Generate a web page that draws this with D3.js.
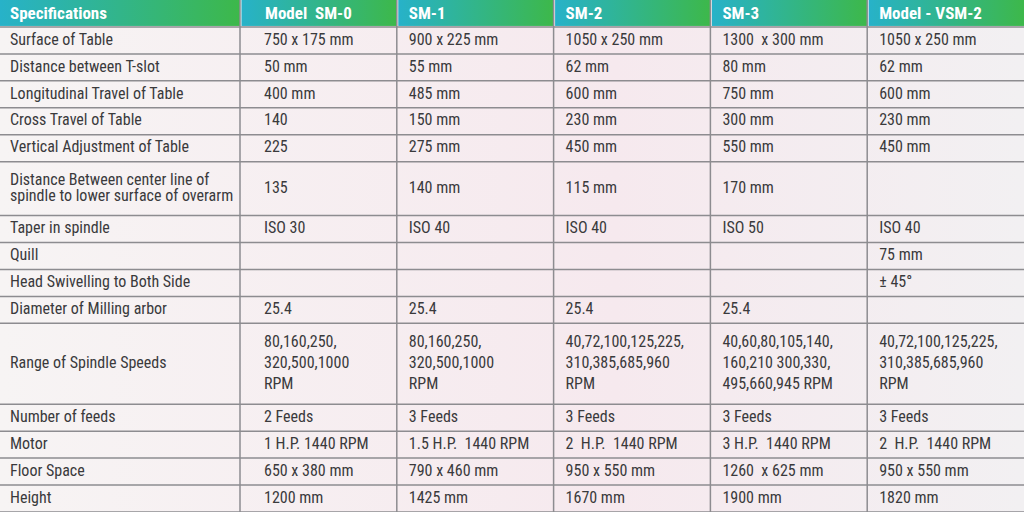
<!DOCTYPE html><html><head><meta charset="utf-8">
<script src="https://cdn.jsdelivr.net/npm/d3@7"></script>
<style>body{margin:0;background:#f4eef0}svg{display:block}text{white-space:pre}</style></head><body>
<svg id="c" width="1024" height="512"></svg>
<script>
const headers=["Specifications","Model  SM-0","SM-1","SM-2","SM-3","Model - VSM-2"];
const specs=["Surface of Table","Distance between T-slot","Longitudinal Travel of Table","Cross Travel of Table","Vertical Adjustment of Table","Distance Between center line of\nspindle to lower surface of overarm","Taper in spindle","Quill","Head Swivelling to Both Side","Diameter of Milling arbor","Range of Spindle Speeds","Number of feeds","Motor","Floor Space","Height"];
const sm0=["750 x 175 mm","50 mm","400 mm","140","225","135","ISO 30","","","25.4","80,160,250,\n320,500,1000\nRPM","2 Feeds","1 H.P. 1440 RPM","650 x 380 mm","1200 mm"];
const sm1=["900 x 225 mm","55 mm","485 mm","150 mm","275 mm","140 mm","ISO 40","","","25.4","80,160,250,\n320,500,1000\nRPM","3 Feeds","1.5 H.P.  1440 RPM","790 x 460 mm","1425 mm"];
const sm2=["1050 x 250 mm","62 mm","600 mm","230 mm","450 mm","115 mm","ISO 40","","","25.4","40,72,100,125,225,\n310,385,685,960\nRPM","3 Feeds","2  H.P.  1440 RPM","950 x 550 mm","1670 mm"];
const sm3=["1300  x 300 mm","80 mm","750 mm","300 mm","550 mm","170 mm","ISO 50","","","25.4","40,60,80,105,140,\n160,210 300,330,\n495,660,945 RPM","3 Feeds","3 H.P.  1440 RPM","1260  x 625 mm","1900 mm"];
const vsm2=["1050 x 250 mm","62 mm","600 mm","230 mm","450 mm","","ISO 40","75 mm","± 45°","","40,72,100,125,225,\n310,385,685,960\nRPM","3 Feeds","2  H.P.  1440 RPM","950 x 550 mm","1820 mm"];
const rowLines=[1,1,1,1,1,2,1,1,1,1,3,1,1,1,1];
const cols=[specs,sm0,sm1,sm2,sm3,vsm2];

const svg=d3.select("#c");
const font="'Liberation Sans Narrow','Roboto Condensed','Liberation Sans',sans-serif";
const starts=[0];rowLines.forEach(n=>starts.push(starts[starts.length-1]+n));
const y=d3.scaleLinear().domain([-1,starts[starts.length-1]]).range([0,512]);
const xb=d3.scaleBand().domain(d3.range(1,6)).range([240,1024]);
const colX=i=>i===0?0:xb(i), colW=i=>i===0?240:xb.bandwidth();

const defs=svg.append("defs");
const g=defs.append("linearGradient").attr("id","hg");
g.append("stop").attr("offset","0%").attr("stop-color","#27b2c9");
g.append("stop").attr("offset","100%").attr("stop-color","#3db84a");
const bg=defs.append("linearGradient").attr("id","bg");
bg.append("stop").attr("offset","0%").attr("stop-color","#f7f4f4");
bg.append("stop").attr("offset","60%").attr("stop-color","#f6e9ee");
bg.append("stop").attr("offset","100%").attr("stop-color","#f2f0f2");
svg.append("rect").attr("width",1024).attr("height",512).attr("fill","url(#bg)");

headers.forEach((h,i)=>{
  svg.append("rect").attr("x",colX(i)+(i?1.5:0)).attr("y",0).attr("width",colW(i)-(i?1.5:0)).attr("height",y(0)-1).attr("fill","url(#hg)");
  svg.append("text").attr("x",colX(i)+(i===0?10:i===1?25:12)).attr("y",y(0)/2+1).attr("dominant-baseline","middle")
    .attr("fill","#fff").attr("font-family",font).attr("font-weight","bold").attr("font-size",17).text(h);
});
starts.forEach(s=>{ if(s>0) svg.append("line").attr("x1",0).attr("x2",1024).attr("y1",y(s)).attr("y2",y(s)).attr("stroke","#8d8c90").attr("stroke-width",1.5);});
svg.append("line").attr("x1",0).attr("x2",1024).attr("y1",y(0)).attr("y2",y(0)).attr("stroke","#8d8c90").attr("stroke-width",1.5);
d3.range(1,6).forEach(i=>svg.append("line").attr("x1",colX(i)).attr("x2",colX(i)).attr("y1",0).attr("y2",512).attr("stroke","#8d8c90").attr("stroke-width",1.5));

cols.forEach((col,ci)=>{
  col.forEach((v,ri)=>{
    const lines=v.split("\n");
    const cy=(y(starts[ri])+y(starts[ri+1]))/2;
    const lh=ci===0?16:21;
    lines.forEach((l,li)=>{
      svg.append("text").attr("x",colX(ci)+(ci===0?10:ci===1?24:12))
        .attr("y",cy+(li-(lines.length-1)/2)*lh).attr("dominant-baseline","middle")
        .attr("fill","#3a3a3c").attr("font-family",font).attr("font-size",16).text(l);
    });
  });
});
</script></body></html>
